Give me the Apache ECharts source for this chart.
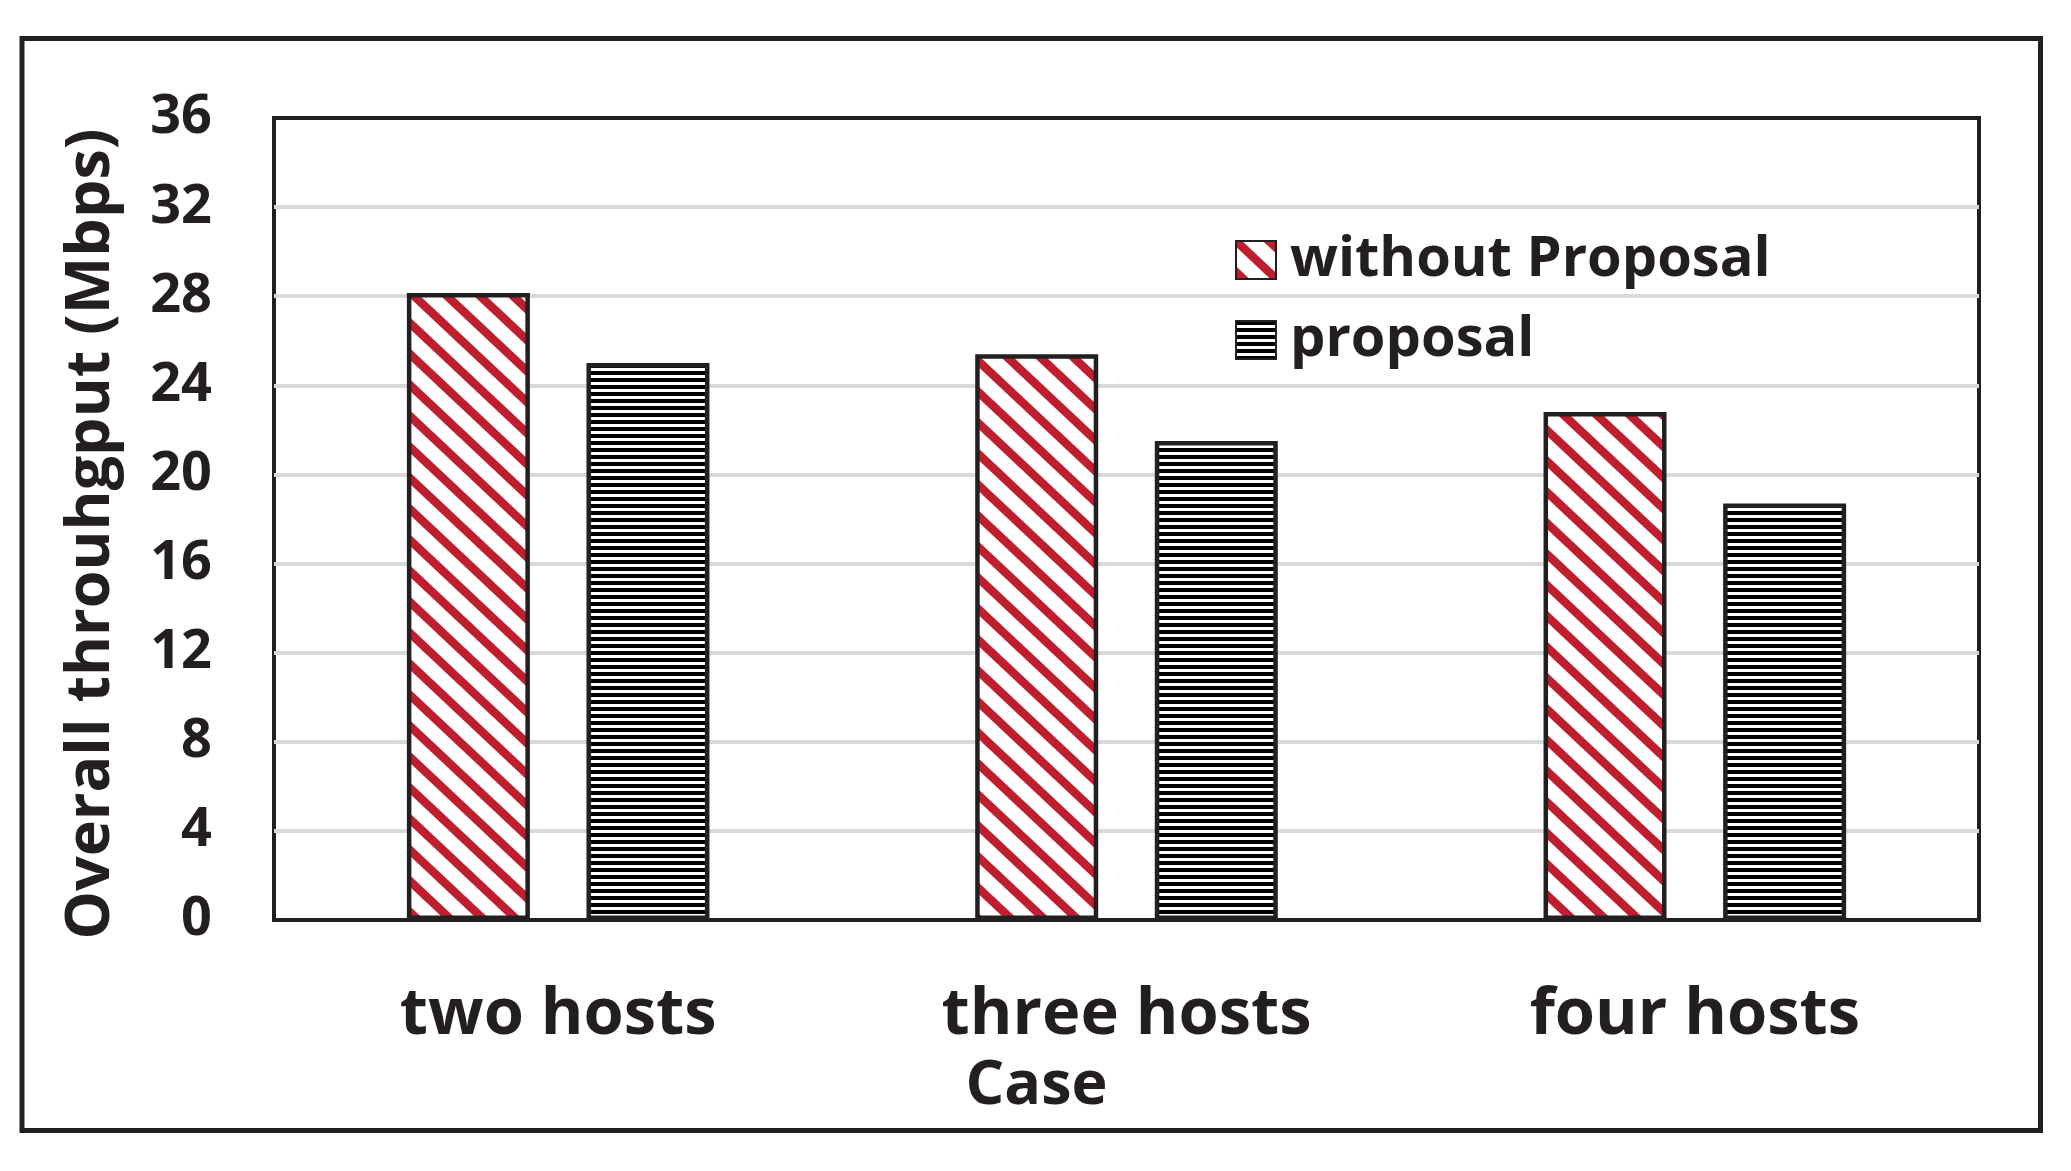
<!DOCTYPE html>
<html>
<head>
<meta charset="utf-8">
<script src="https://cdn.jsdelivr.net/npm/echarts@6/dist/echarts.min.js"></script>
<style>
html,body{margin:0;padding:0;background:#fff;}
#chart{width:2071px;height:1171px;}
</style>
</head>
<body>
<div id="chart"></div>
<script>
const categories = ['two hosts', 'three hosts', 'four hosts'];
const withoutProposal = [28.15, 25.4, 22.8];
const proposal = [25.0, 21.5, 18.7];
const seriesNames = ['without Proposal', 'proposal'];
const yAxisTitle = 'Overall throuhgput (Mbps)';
const xAxisTitle = 'Case';

const INK = '#231f20';
const FONT = '"Open Sans", "Noto Sans", sans-serif';

function diagPattern() {
  const W = 33, H = 31;
  const c = document.createElement('canvas');
  c.width = W; c.height = H;
  const g = c.getContext('2d');
  g.fillStyle = '#ffffff';
  g.fillRect(0, 0, W, H);
  g.strokeStyle = '#be1e2d';
  g.lineWidth = 8.5;
  for (let k = -2; k <= 2; k++) {
    g.beginPath();
    g.moveTo(k * W - W, -H);
    g.lineTo(k * W + 2 * W, 2 * H);
    g.stroke();
  }
  return c;
}
function hPattern() {
  const c = document.createElement('canvas');
  c.width = 8; c.height = 7;
  const g = c.getContext('2d');
  g.fillStyle = '#ffffff';
  g.fillRect(0, 0, 8, 7);
  g.fillStyle = '#000000';
  g.fillRect(0, 0, 8, 4);
  return c;
}

const chart = echarts.init(document.getElementById('chart'), null, {renderer: 'canvas'});
chart.setOption({
  animation: false,
  backgroundColor: '#ffffff',
  textStyle: {fontFamily: FONT, color: INK, fontWeight: 'bold'},
  graphic: [{
    type: 'rect',
    shape: {x: 22, y: 38.5, width: 2018.5, height: 1092},
    style: {fill: 'none', stroke: INK, lineWidth: 5},
    z: 100, silent: true
  }],
  grid: {
    left: 274, right: 92, top: 118, bottom: 251,
    show: true, borderColor: INK, borderWidth: 4, backgroundColor: '#ffffff'
  },
  legend: {
    orient: 'vertical',
    left: 1230, top: 227,
    icon: 'rect',
    itemWidth: 40, itemHeight: 38, itemGap: 24,
    data: seriesNames,
    textStyle: {fontSize: 56, lineHeight: 56, fontWeight: 'bold', color: INK, fontFamily: FONT, padding: [0, 0, 0, 9]}
  },
  xAxis: {
    type: 'category',
    data: categories,
    name: xAxisTitle,
    nameLocation: 'middle',
    nameGap: 136,
    nameTextStyle: {fontSize: 61, fontWeight: 'bold', color: INK, fontFamily: FONT, padding: [0, 180, 0, 0]},
    axisLine: {show: true, lineStyle: {color: INK, width: 4}},
    axisTick: {show: false},
    axisLabel: {fontSize: 65, fontWeight: 'bold', color: INK, margin: 63, interval: 0, fontFamily: FONT}
  },
  yAxis: {
    type: 'value',
    min: 0, max: 36, interval: 4,
    name: yAxisTitle,
    nameLocation: 'middle',
    nameRotate: 90,
    nameGap: 152,
    nameTextStyle: {fontSize: 61, fontWeight: 'bold', color: INK, fontFamily: FONT, padding: [0, 30, 0, 0]},
    axisLine: {show: false},
    axisTick: {show: false},
    axisLabel: {fontSize: 54, fontWeight: 'bold', color: INK, margin: 62, fontFamily: FONT},
    splitLine: {show: true, showMinLine: false, showMaxLine: false, lineStyle: {color: '#d9d9d9', width: 4}}
  },
  series: [
    {
      name: seriesNames[0], type: 'bar', data: withoutProposal,
      barWidth: 123, barGap: '46%',
      itemStyle: {color: {image: diagPattern(), repeat: 'repeat'}, borderColor: INK, borderWidth: 4.5}
    },
    {
      name: seriesNames[1], type: 'bar', data: proposal,
      barWidth: 123,
      itemStyle: {color: {image: hPattern(), repeat: 'repeat'}, borderColor: INK, borderWidth: 4.5}
    }
  ]
});
</script>
</body>
</html>
